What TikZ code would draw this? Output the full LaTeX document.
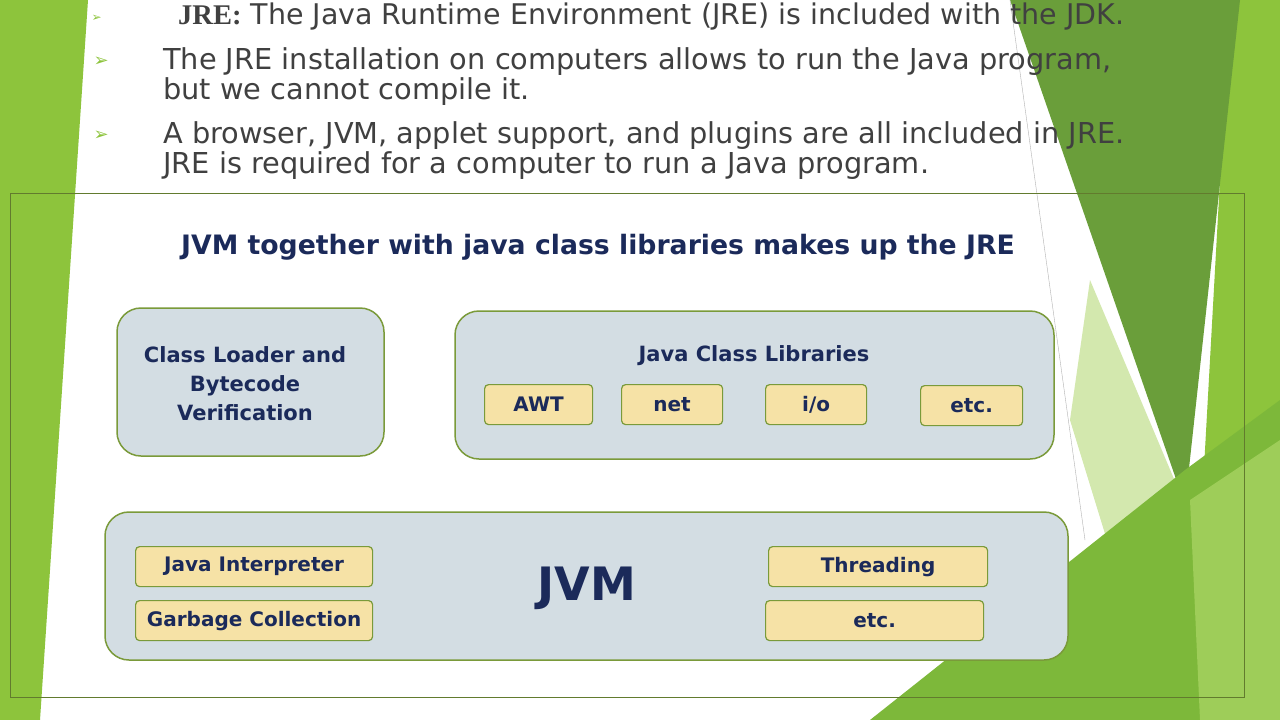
\documentclass[tikz,border=0pt]{standalone}
\usepackage{fontspec}
\setmainfont{DejaVu Sans}
\newfontfamily\bodyf{DejaVu Sans}
\newfontfamily\serf{Liberation Serif}
\usetikzlibrary{positioning}
\definecolor{navy}{HTML}{1B2A5A}
\definecolor{boxfill}{HTML}{D3DDE3}
\definecolor{boxline}{HTML}{7A9A3A}
\definecolor{yel}{HTML}{F6E2A6}
\definecolor{txt}{HTML}{404040}
\definecolor{g1}{HTML}{8DC43C}
\definecolor{g2}{HTML}{6A9E3A}
\definecolor{g3}{HTML}{D3E8AE}
\definecolor{g4}{HTML}{7DB83A}
\tikzset{
 big/.style={draw=boxline,line width=1.5pt,fill=boxfill,rounded corners=24pt},
 small/.style={draw=boxline,line width=1.2pt,fill=yel,rounded corners=4pt,font=\fontsize{20}{22}\selectfont\bfseries,text=navy,anchor=north west,inner sep=0pt,align=center},
 bul/.style={anchor=west,text=g1,font=\fontsize{18}{20}\selectfont},
 line/.style={anchor=west,text=txt,font=\bodyf\fontsize{28.8}{29}\selectfont,inner sep=0pt}
}
\begin{document}
\begin{tikzpicture}[x=1pt,y=-1pt]
\useasboundingbox (0,0) rectangle (1280,720);
\fill[white] (0,0) rectangle (1280,720);
% background greens
\fill[g1] (0,0)--(88,0)--(40,720)--(0,720)--cycle;
\fill[g1] (1230,0)--(1280,0)--(1280,720)--(1190,720)--cycle;
\fill[g2] (1010,0)--(1240,0)--(1185,505)--cycle;
\fill[g3] (1090,280)--(1185,505)--(1110,550)--(1070,420)--cycle;
\fill[g4] (870,720)--(1185,470)--(1280,400)--(1280,720)--cycle;
\fill[g1!85!white] (1190,500)--(1280,440)--(1280,720)--(1200,720)--cycle;
\draw[gray!60,thin] (1010,0)--(1085,540);
% frame
\node[draw=boxline!80!black,line width=1pt,minimum width=1234pt,minimum height=504pt,anchor=north west,inner sep=0pt] (frame) at (10,193) {};
% bullets
\node[bul,font=\fontsize{12}{12}\selectfont] (b1) at (88,18) {➢};
\node[bul] (b2) at (90,62) {➢};
\node[bul] (b3) at (90,136) {➢};
\node[line,font=\bodyf\fontsize{28.5}{29}\selectfont] (l1) at (178,17) {{\serf\bfseries JRE:} The Java Runtime Environment (JRE) is included with the JDK.};
\node[line] (l2) at (163,62) {The JRE installation on computers allows to run the Java program,};
\node[line] (l3) at (163,92) {but we cannot compile it.};
\node[line] (l4) at (163,136) {A browser, JVM, applet support, and plugins are all included in JRE.};
\node[line] (l5) at (163,166) {JRE is required for a computer to run a Java program.};
\node[text=navy,font=\fontsize{26.7}{28}\selectfont\bfseries] (title) at (598,247) {JVM together with java class libraries makes up the JRE};
% big boxes
\draw[big] (117,308) rectangle (384,456);
\node[text=navy,font=\fontsize{21}{29}\selectfont\bfseries,align=center] (cl) at (245,384) {Class Loader and\\Bytecode\\Verification};
\draw[big] (455,311) rectangle (1054,459);
\node[text=navy,font=\fontsize{21}{24}\selectfont\bfseries] (jcl) at (754,356) {Java Class Libraries};
\draw[big] (105,512) rectangle (1068,660);
\node[text=navy,font=\fontsize{46}{48}\selectfont\bfseries] (jvm) at (587,588) {JVM};
% small boxes
\node[small,minimum width=108pt,minimum height=40pt] (awt) at (484,384) {AWT};
\node[small,minimum width=101pt,minimum height=40pt] (net) at (621,384) {net};
\node[small,minimum width=101pt,minimum height=40pt] (io) at (765,384) {i/o};
\node[small,minimum width=102pt,minimum height=40pt] (etc1) at (920,385) {etc.};
\node[small,minimum width=237pt,minimum height=40pt] (ji) at (135,546) {Java Interpreter};
\node[small,minimum width=237pt,minimum height=40pt] (gc) at (135,600) {Garbage Collection};
\node[small,minimum width=219pt,minimum height=40pt] (th) at (768,546) {Threading};
\node[small,minimum width=218pt,minimum height=40pt] (etc2) at (765,600) {etc.};
\end{tikzpicture}
\end{document}
